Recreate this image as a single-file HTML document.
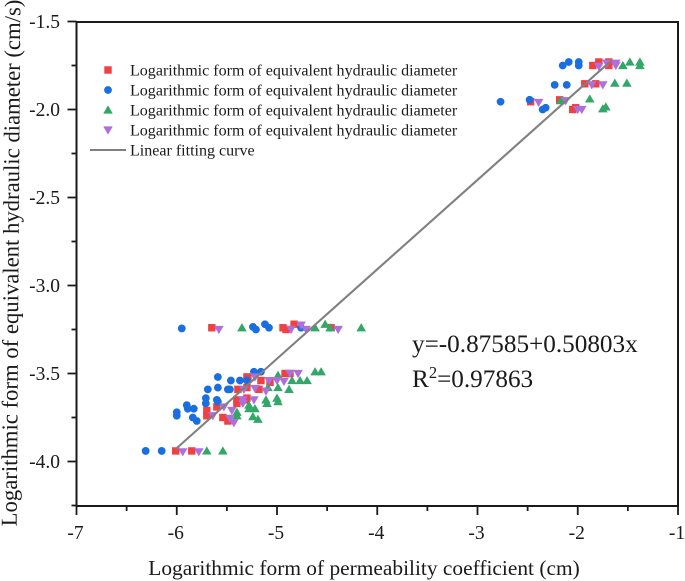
<!DOCTYPE html>
<html lang="en">
<head>
<meta charset="utf-8">
<title>Permeability coefficient vs equivalent hydraulic diameter</title>
<style>
html,body{margin:0;padding:0;background:#fff;}
svg{display:block;}
text{font-family:"Liberation Serif",serif;fill:#1a1a1a;}
</style>
</head>
<body>
<svg id="chart" width="685" height="581" viewBox="0 0 685 581" xmlns="http://www.w3.org/2000/svg">
  <rect x="0" y="0" width="685" height="581" fill="#fff"/>
  <g id="axes"></g>
  <g id="marks"></g>
  <text x="364" y="575" font-size="21.4" text-anchor="middle">Logarithmic form of permeability coefficient (cm)</text>
  <text transform="translate(18.5,263) rotate(-89.6)" font-size="22.7" text-anchor="middle">Logarithmic form of equivalent hydraulic diameter (cm/s)</text>
  <g id="legend">
    <text x="130" y="75.5" font-size="16.05">Logarithmic form of equivalent hydraulic diameter</text>
    <text x="130" y="95.5" font-size="16.05">Logarithmic form of equivalent hydraulic diameter</text>
    <text x="130" y="115.5" font-size="16.05">Logarithmic form of equivalent hydraulic diameter</text>
    <text x="130" y="135.5" font-size="16.05">Logarithmic form of equivalent hydraulic diameter</text>
    <text x="130" y="155.5" font-size="16.05">Linear fitting curve</text>
    <line x1="90" y1="150" x2="126" y2="150" stroke="#808080" stroke-width="2"/>
  </g>
  <text x="412" y="352" font-size="25.2">y=-0.87585+0.50803x</text>
  <text x="412" y="387" font-size="25.2">R<tspan dy="-9" font-size="16.5">2</tspan><tspan dy="9">=0.97863</tspan></text>
</svg>
<script>
var xMajorTicks = [-7, -6, -5, -4, -3, -2, -1];
var xMinorTicks = [-6.5, -5.5, -4.5, -3.5, -2.5, -1.5];
var xTickLabels = ['-7', '-6', '-5', '-4', '-3', '-2', '-1'];
var yMajorTicks = [-1.5, -2, -2.5, -3, -3.5, -4];
var yMinorTicks = [-1.75, -2.25, -2.75, -3.25, -3.75, -4.25];
var yTickLabels = ['-1.5', '-2.0', '-2.5', '-3.0', '-3.5', '-4.0'];
var fitIntercept = -0.87585;
var fitSlope = 0.50803;
var fitRange = [-6.01, -1.67];

var redX = [-6.01, -5.85, -5.70, -5.70, -5.60, -5.54, -5.49, -5.40, -5.40, -5.39, -5.30, -5.30, -5.30, -5.32, -5.16, -5.18, -5.07, -5.29, -4.92, -4.87, -5.65, -4.94, -4.91, -4.83, -4.46, -2.47, -2.18, -2.05, -2.02, -1.93, -1.82, -1.85, -1.79, -1.69, -1.69];
var redY = [-3.94, -3.94, -3.71, -3.74, -3.69, -3.75, -3.77, -3.65, -3.67, -3.59, -3.52, -3.58, -3.64, -3.65, -3.54, -3.59, -3.55, -3.52, -3.50, -3.50, -3.24, -3.24, -3.25, -3.22, -3.24, -1.956, -1.945, -2.0, -1.99, -1.854, -1.854, -1.75, -1.73, -1.73, -1.75];

var blueX = [-6.31, -6.15, -6.0, -6.0, -5.90, -5.89, -5.83, -5.84, -5.80, -5.71, -5.71, -5.69, -5.59, -5.59, -5.60, -5.59, -5.49, -5.47, -5.46, -5.37, -5.30, -5.23, -5.16, -5.95, -5.24, -5.21, -5.12, -5.08, -4.76, -2.77, -2.48, -2.35, -2.32, -2.23, -2.11, -2.15, -2.09, -1.99, -1.99];
var blueY = [-3.94, -3.94, -3.72, -3.74, -3.68, -3.70, -3.70, -3.75, -3.77, -3.64, -3.67, -3.59, -3.52, -3.58, -3.65, -3.66, -3.59, -3.59, -3.54, -3.54, -3.54, -3.49, -3.49, -3.244, -3.235, -3.25, -3.22, -3.24, -3.24, -1.956, -1.945, -2.0, -1.99, -1.86, -1.86, -1.75, -1.73, -1.73, -1.75];

var greenX = [-5.70, -5.54, -5.35, -4.62, -4.52, -4.47, -4.16, -4.62, -4.56, -4.99, -4.85, -4.77, -4.70, -4.99, -4.88, -5.09, -5.0, -4.99, -5.11, -5.10, -5.28, -5.28, -5.22, -5.24, -5.19, -5.40, -5.40, -1.88, -2.17, -1.75, -1.72, -1.63, -1.51, -1.55, -1.48, -1.38, -1.38];
var greenY = [-3.94, -3.94, -3.24, -3.24, -3.22, -3.24, -3.24, -3.49, -3.49, -3.51, -3.54, -3.54, -3.54, -3.58, -3.59, -3.58, -3.64, -3.66, -3.65, -3.67, -3.68, -3.70, -3.70, -3.745, -3.76, -3.72, -3.74, -1.94, -1.95, -1.996, -1.985, -1.85, -1.85, -1.75, -1.73, -1.73, -1.75];

var purpleX = [-5.58, -5.94, -5.78, -5.64, -5.53, -5.45, -5.47, -5.43, -5.34, -5.34, -5.23, -5.33, -5.22, -5.22, -5.11, -5.08, -5.0, -4.93, -4.87, -4.79, -4.86, -4.76, -4.71, -4.39, -2.39, -2.12, -2.0, -1.96, -1.86, -1.75, -1.79, -1.71, -1.62, -1.62];
var purpleY = [-3.25, -3.945, -3.945, -3.74, -3.69, -3.71, -3.755, -3.78, -3.65, -3.67, -3.65, -3.59, -3.585, -3.52, -3.60, -3.54, -3.54, -3.545, -3.50, -3.50, -3.25, -3.225, -3.25, -3.25, -1.96, -1.95, -2.0, -2.0, -1.86, -1.86, -1.755, -1.737, -1.75, -1.737];

var NS = 'http://www.w3.org/2000/svg';
var plotLeft = 76.5, plotRight = 678, plotTop = 22, plotBottom = 506;
function xScale(v) { return plotLeft + (v + 7) * (plotRight - plotLeft) / 6; }
function yScale(v) { return 21.5 + (-1.5 - v) * 176; }
function make(tag, attrs, parent) {
  var el = document.createElementNS(NS, tag);
  for (var k in attrs) el.setAttribute(k, attrs[k]);
  parent.appendChild(el);
  return el;
}
var axes = document.getElementById('axes');
var marks = document.getElementById('marks');
var legend = document.getElementById('legend');

var frame = make('rect', {x: plotLeft, y: plotTop, width: plotRight - plotLeft, height: plotBottom - plotTop, fill: 'none', stroke: '#1a1a1a', 'stroke-width': 2}, axes);



xMajorTicks.forEach(function (v, i) {
  var t = make('line', {x1: xScale(v), x2: xScale(v), y1: plotBottom, y2: plotBottom + 9, stroke: '#1a1a1a', 'stroke-width': 1.8}, axes);
  
  
  var l = make('text', {x: xScale(v) - 1, y: 539, 'font-size': 19.5, 'text-anchor': 'middle'}, axes);
  l.textContent = xTickLabels[i];
  
  
});
xMinorTicks.forEach(function (v) {
  var t = make('line', {x1: xScale(v), x2: xScale(v), y1: plotBottom, y2: plotBottom + 5, stroke: '#1a1a1a', 'stroke-width': 1.8}, axes);
  
  
});
yMajorTicks.forEach(function (v, i) {
  var t = make('line', {x1: plotLeft - 9, x2: plotLeft, y1: yScale(v), y2: yScale(v), stroke: '#1a1a1a', 'stroke-width': 1.8}, axes);
  
  
  var l = make('text', {x: 60, y: yScale(v) + 6.5, 'font-size': 19.5, 'text-anchor': 'end'}, axes);
  l.textContent = yTickLabels[i];
  
  
});
yMinorTicks.forEach(function (v) {
  var t = make('line', {x1: plotLeft - 5, x2: plotLeft, y1: yScale(v), y2: yScale(v), stroke: '#1a1a1a', 'stroke-width': 1.8}, axes);
  
  
});

function glyph(shape, cx, cy, color, parent) {
  if (shape === 'square') return make('rect', {x: cx - 3.7, y: cy - 3.7, width: 7.4, height: 7.4, fill: color}, parent);
  if (shape === 'circle') return make('circle', {cx: cx, cy: cy, r: 3.9, fill: color}, parent);
  if (shape === 'up') return make('polygon', {points: (cx - 4.8) + ',' + (cy + 3.6) + ' ' + (cx + 4.8) + ',' + (cy + 3.6) + ' ' + cx + ',' + (cy - 4.6), fill: color}, parent);
  return make('polygon', {points: (cx - 4.8) + ',' + (cy - 3.6) + ' ' + (cx + 4.8) + ',' + (cy - 3.6) + ' ' + cx + ',' + (cy + 4.6), fill: color}, parent);
}

function drawSeries(xs, ys, shape, color, name) {
  var g = make('g', {}, marks);
  
  
  xs.forEach(function (v, i) {
    var p = glyph(shape, xScale(v), yScale(ys[i]), color, g);
    
    
  });
}
drawSeries(redX, redY, 'square', '#f04040', 'red');
drawSeries(blueX, blueY, 'circle', '#1a6fe0', 'blue');
drawSeries(greenX, greenY, 'up', '#32a868', 'green');
drawSeries(purpleX, purpleY, 'down', '#ae6fdc', 'purple');

var fit = make('line', {
  x1: xScale(fitRange[0]), y1: yScale(fitIntercept + fitSlope * fitRange[0]),
  x2: xScale(fitRange[1]), y2: yScale(fitIntercept + fitSlope * fitRange[1]),
  stroke: '#808080', 'stroke-width': 2.1
}, marks);



var k1 = glyph('square', 108, 70, '#f04040', legend);


var k2 = glyph('circle', 108, 90, '#1a6fe0', legend);


var k3 = glyph('up', 108, 110, '#32a868', legend);


var k4 = glyph('down', 108, 130, '#ae6fdc', legend);


</script>
</body>
</html>
